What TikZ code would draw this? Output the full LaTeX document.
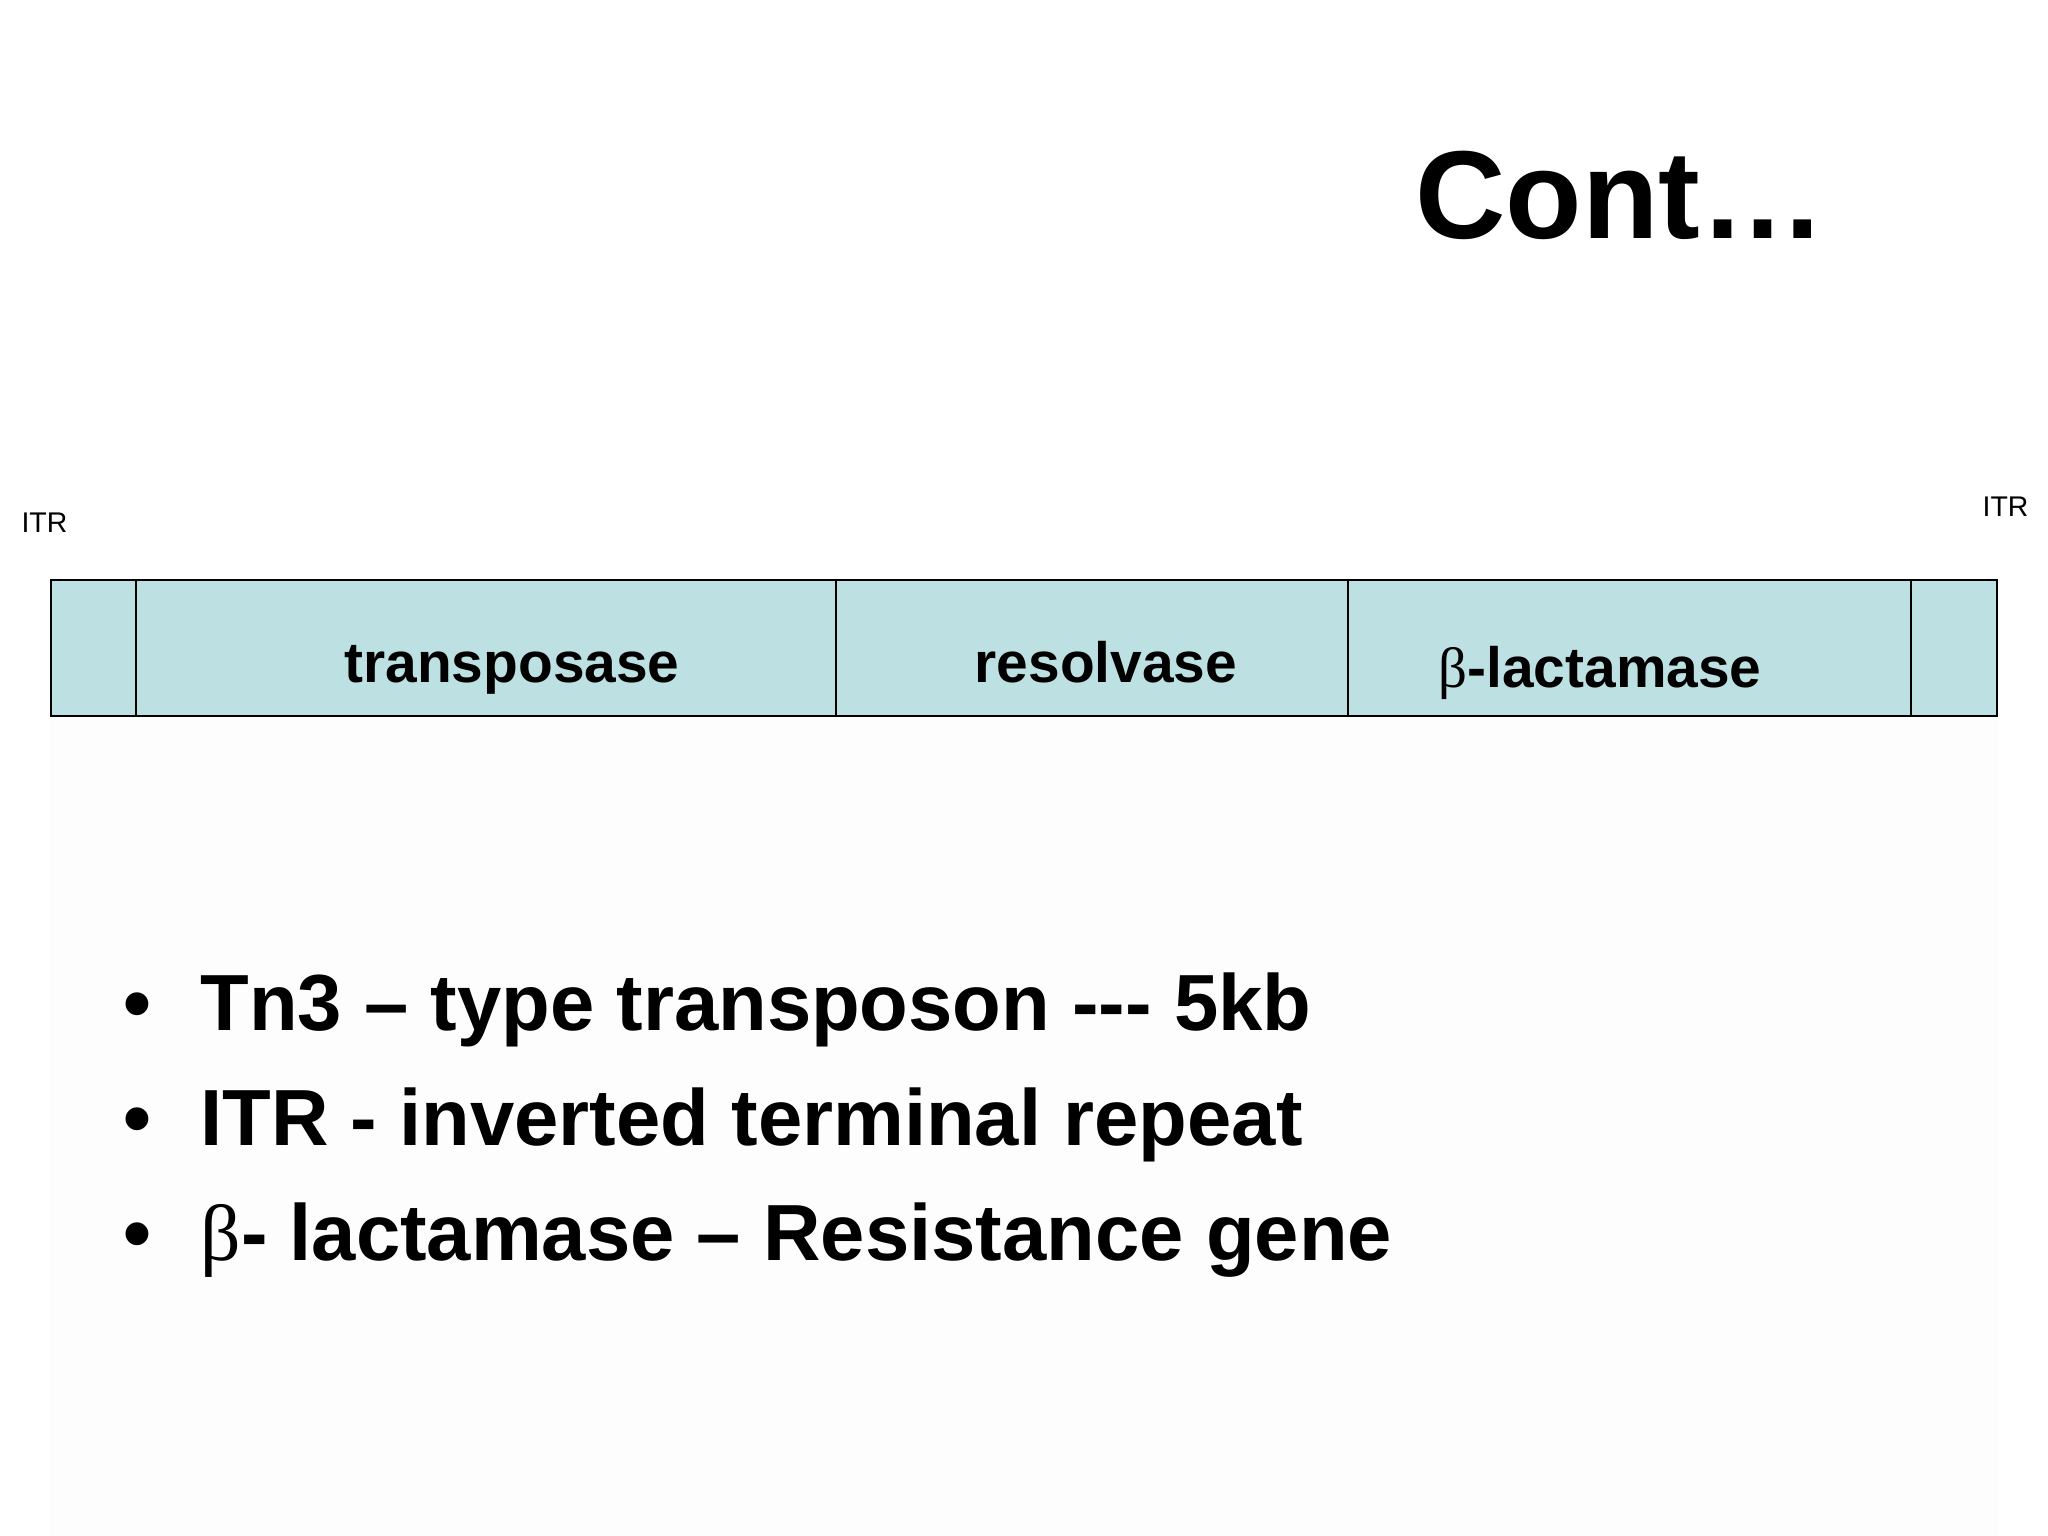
\documentclass[tikz,border=0pt]{standalone}
\usepackage{fontspec}
\setmainfont{Liberation Sans}
\newfontfamily\betafont{Liberation Serif}
\usetikzlibrary{positioning}
\definecolor{geneFill}{RGB}{189,224,226}
\definecolor{slideShade}{RGB}{253,253,253}
\tikzset{
	segBox/.style={rectangle, draw=black, fill=geneFill, line width=0.7pt, minimum height=47.8pt, inner sep=0pt, outer sep=0pt, anchor=north west},
	geneLabel/.style={font=\fontsize{20}{24}\selectfont\bfseries},
	bulletLine/.style={anchor=base west, font=\fontsize{28}{34}\selectfont\bfseries, inner sep=0pt}
}
\newcommand{\betaSym}{{\mdseries\betafont β}}
\begin{document}
\begin{tikzpicture}[x=0.3515625pt, y=-0.3515625pt]
	\useasboundingbox (0,0) rectangle (2048,1536);
	\fill[slideShade] (50,716) rectangle (1998,1536);
	\node[anchor=base west, inner sep=0pt, font=\fontsize{44}{52}\selectfont\bfseries](titleLabel) at (1415,239){Cont…};
	\node[anchor=base west, inner sep=0pt, font=\fontsize{10}{12}\selectfont](itrLeftLabel) at (21,533){ITR};
	\node[anchor=base west, inner sep=0pt, font=\fontsize{10}{12}\selectfont](itrRightLabel) at (1982,517){ITR};
	\node[segBox, minimum width=29.9pt](itrLeftBox) at (51,580){};
	\node[segBox, minimum width=246.1pt](transposaseBox) at (itrLeftBox.north east){};
	\node[segBox, minimum width=180pt](resolvaseBox) at (transposaseBox.north east){};
	\node[segBox, minimum width=197.9pt](lactamaseBox) at (resolvaseBox.north east){};
	\node[segBox, minimum width=30.2pt](itrRightBox) at (lactamaseBox.north east){};
	\node[geneLabel, anchor=base](transposaseLabel) at (512,682){transposase};
	\node[geneLabel, anchor=base](resolvaseLabel) at (1106,682){resolvase};
	\node[geneLabel, anchor=base west, inner sep=0pt](lactamaseLabel) at (1438,688){\betaSym-lactamase};
	\node[bulletLine](bulletOne) at (123,1030){•};
	\node[bulletLine](bulletTwo) at (123,1145){•};
	\node[bulletLine](bulletThree) at (123,1260){•};
	\node[bulletLine](tnLine) at (200,1030){Tn3 – type transposon -{}-{}- 5kb};
	\node[bulletLine](itrLine) at (200,1145){ITR - inverted terminal repeat};
	\node[bulletLine](betaLine) at (200,1260){\betaSym- lactamase – Resistance gene};
\end{tikzpicture}
\end{document}
